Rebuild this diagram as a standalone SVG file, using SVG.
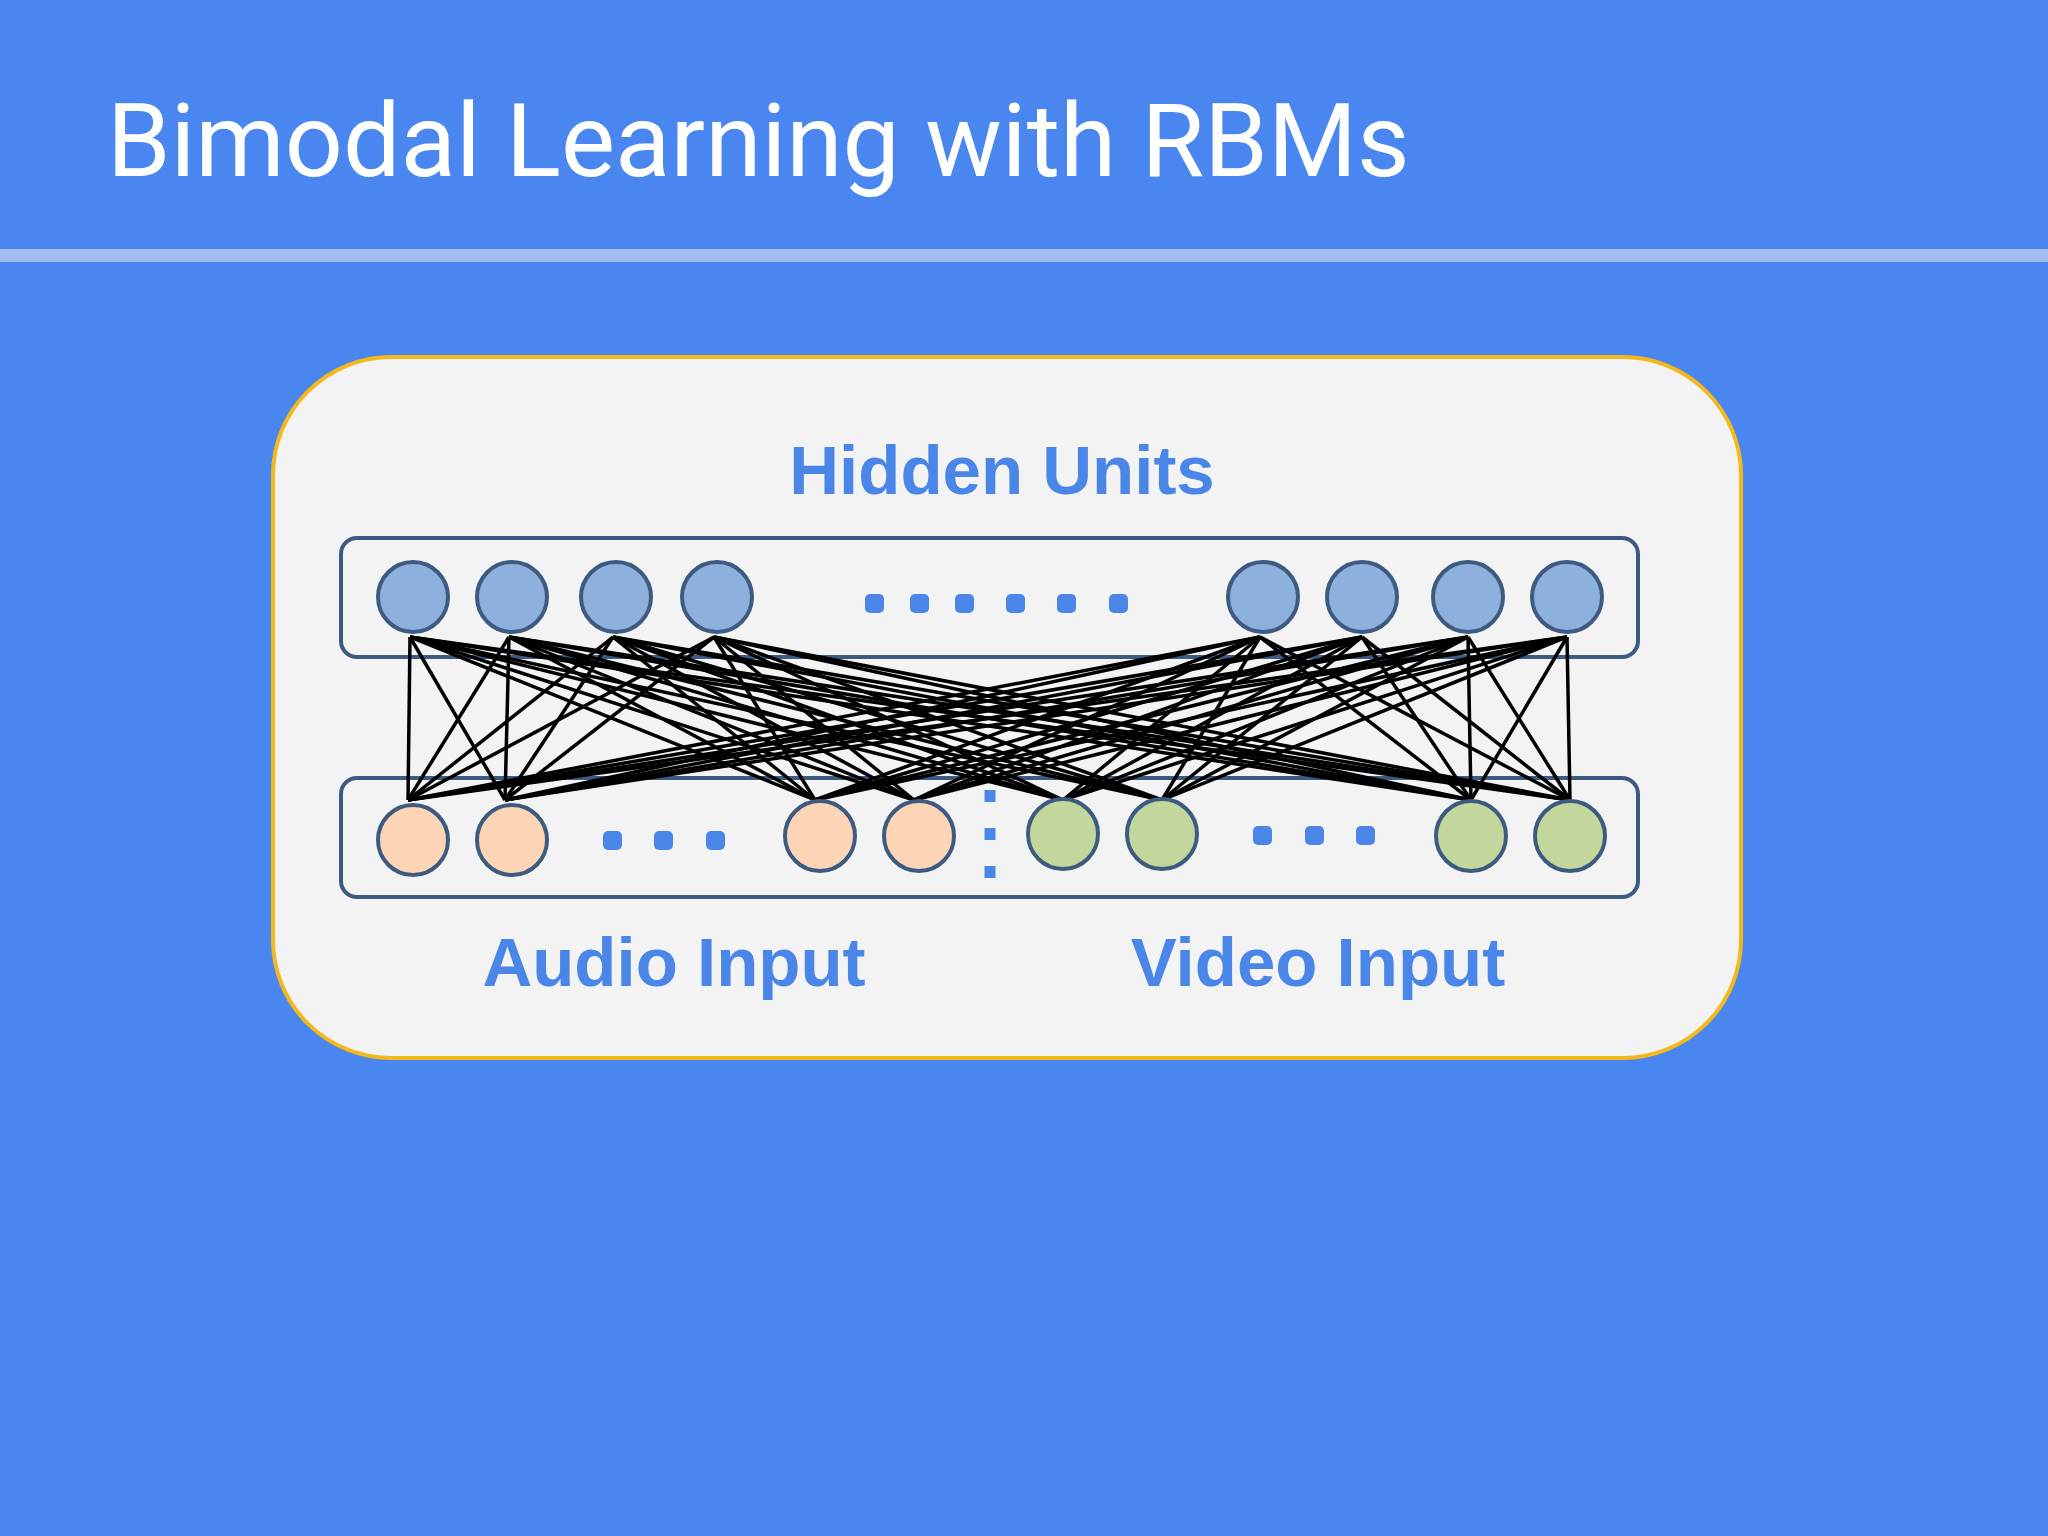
<svg xmlns="http://www.w3.org/2000/svg" width="2048" height="1536" viewBox="0 0 2048 1536">
<style>
.h{fill:#8eb0dc;stroke:#3d5a80;stroke-width:4}
.a{fill:#fbd5b5;stroke:#3d5a80;stroke-width:4}
.v{fill:#c3d69b;stroke:#3d5a80;stroke-width:4}
.lay{fill:none;stroke:#3d5a80;stroke-width:4}
.lbl{font-family:"Liberation Sans",Arial,sans-serif;font-weight:bold;fill:#4a86e8;font-size:69px;text-anchor:middle}
.d{fill:#4a86e8}
#edges line{stroke:#000;stroke-width:3.5}
</style>
<rect width="2048" height="1536" fill="#4a86f0"/>
<text x="107" y="176" font-family="Roboto,'Open Sans',sans-serif" font-size="102" fill="#fff">Bimodal Learning with RBMs</text>
<rect x="0" y="249" width="2048" height="13" fill="#a4bdf0"/>
<rect x="273" y="357" width="1468" height="701" rx="118" fill="#f3f3f3" stroke="#f2b81c" stroke-width="4"/>
<text class="lbl" x="1002" y="494">Hidden Units</text>
<text class="lbl" x="674" y="986">Audio Input</text>
<text class="lbl" x="1318" y="986">Video Input</text>
<g id="hidden-layer"><rect class="lay" x="341" y="538" width="1297" height="119" rx="16"/></g>
<g id="visible-layer"><rect class="lay" x="341" y="778" width="1297" height="119" rx="16"/></g>
<g id="edges">
<line x1="410" y1="637" x2="408" y2="800"/><line x1="410" y1="637" x2="505" y2="800"/><line x1="410" y1="637" x2="815" y2="800"/><line x1="410" y1="637" x2="914" y2="800"/><line x1="410" y1="637" x2="1063" y2="800"/><line x1="410" y1="637" x2="1162" y2="800"/><line x1="410" y1="637" x2="1471" y2="800"/><line x1="410" y1="637" x2="1570" y2="800"/>
<line x1="509" y1="637" x2="408" y2="800"/><line x1="509" y1="637" x2="505" y2="800"/><line x1="509" y1="637" x2="815" y2="800"/><line x1="509" y1="637" x2="914" y2="800"/><line x1="509" y1="637" x2="1063" y2="800"/><line x1="509" y1="637" x2="1162" y2="800"/><line x1="509" y1="637" x2="1471" y2="800"/><line x1="509" y1="637" x2="1570" y2="800"/>
<line x1="613" y1="637" x2="408" y2="800"/><line x1="613" y1="637" x2="505" y2="800"/><line x1="613" y1="637" x2="815" y2="800"/><line x1="613" y1="637" x2="914" y2="800"/><line x1="613" y1="637" x2="1063" y2="800"/><line x1="613" y1="637" x2="1162" y2="800"/><line x1="613" y1="637" x2="1471" y2="800"/><line x1="613" y1="637" x2="1570" y2="800"/>
<line x1="714" y1="637" x2="408" y2="800"/><line x1="714" y1="637" x2="505" y2="800"/><line x1="714" y1="637" x2="815" y2="800"/><line x1="714" y1="637" x2="914" y2="800"/><line x1="714" y1="637" x2="1063" y2="800"/><line x1="714" y1="637" x2="1162" y2="800"/><line x1="714" y1="637" x2="1471" y2="800"/><line x1="714" y1="637" x2="1570" y2="800"/>
<line x1="1260" y1="637" x2="408" y2="800"/><line x1="1260" y1="637" x2="505" y2="800"/><line x1="1260" y1="637" x2="815" y2="800"/><line x1="1260" y1="637" x2="914" y2="800"/><line x1="1260" y1="637" x2="1063" y2="800"/><line x1="1260" y1="637" x2="1162" y2="800"/><line x1="1260" y1="637" x2="1471" y2="800"/><line x1="1260" y1="637" x2="1570" y2="800"/>
<line x1="1362" y1="637" x2="408" y2="800"/><line x1="1362" y1="637" x2="505" y2="800"/><line x1="1362" y1="637" x2="815" y2="800"/><line x1="1362" y1="637" x2="914" y2="800"/><line x1="1362" y1="637" x2="1063" y2="800"/><line x1="1362" y1="637" x2="1162" y2="800"/><line x1="1362" y1="637" x2="1471" y2="800"/><line x1="1362" y1="637" x2="1570" y2="800"/>
<line x1="1468" y1="637" x2="408" y2="800"/><line x1="1468" y1="637" x2="505" y2="800"/><line x1="1468" y1="637" x2="815" y2="800"/><line x1="1468" y1="637" x2="914" y2="800"/><line x1="1468" y1="637" x2="1063" y2="800"/><line x1="1468" y1="637" x2="1162" y2="800"/><line x1="1468" y1="637" x2="1471" y2="800"/><line x1="1468" y1="637" x2="1570" y2="800"/>
<line x1="1567" y1="637" x2="408" y2="800"/><line x1="1567" y1="637" x2="505" y2="800"/><line x1="1567" y1="637" x2="815" y2="800"/><line x1="1567" y1="637" x2="914" y2="800"/><line x1="1567" y1="637" x2="1063" y2="800"/><line x1="1567" y1="637" x2="1162" y2="800"/><line x1="1567" y1="637" x2="1471" y2="800"/><line x1="1567" y1="637" x2="1570" y2="800"/>
</g>
<g id="hidden-units">
<circle class="h" cx="413" cy="597" r="35"/><circle class="h" cx="512" cy="597" r="35"/><circle class="h" cx="616" cy="597" r="35"/><circle class="h" cx="717" cy="597" r="35"/>
<circle class="h" cx="1263" cy="597" r="35"/><circle class="h" cx="1362" cy="597" r="35"/><circle class="h" cx="1468" cy="597" r="35"/><circle class="h" cx="1567" cy="597" r="35"/>
<rect class="d" x="865" y="594" width="19" height="19" rx="5"/><rect class="d" x="910" y="594" width="19" height="19" rx="5"/><rect class="d" x="955" y="594" width="19" height="19" rx="5"/><rect class="d" x="1006" y="594" width="19" height="19" rx="5"/><rect class="d" x="1057" y="594" width="19" height="19" rx="5"/><rect class="d" x="1109" y="594" width="19" height="19" rx="5"/>
</g>
<g id="audio-input">
<circle class="a" cx="413" cy="840" r="35"/><circle class="a" cx="512" cy="840" r="35"/><circle class="a" cx="820" cy="836" r="35"/><circle class="a" cx="919" cy="836" r="35"/>
<rect class="d" x="603" y="831" width="19" height="19" rx="5"/><rect class="d" x="654" y="831" width="19" height="19" rx="5"/><rect class="d" x="706" y="831" width="19" height="19" rx="5"/>
</g>
<g id="video-input">
<circle class="v" cx="1063" cy="834" r="35"/><circle class="v" cx="1162" cy="834" r="35"/><circle class="v" cx="1471" cy="836" r="35"/><circle class="v" cx="1570" cy="836" r="35"/>
<rect class="d" x="1253" y="826" width="19" height="19" rx="5"/><rect class="d" x="1305" y="826" width="19" height="19" rx="5"/><rect class="d" x="1356" y="826" width="19" height="19" rx="5"/>
</g>
<g id="divider"><line x1="990" y1="790" x2="990" y2="895" stroke="#4a86e8" stroke-width="11" stroke-dasharray="12,26"/></g>
</svg>
